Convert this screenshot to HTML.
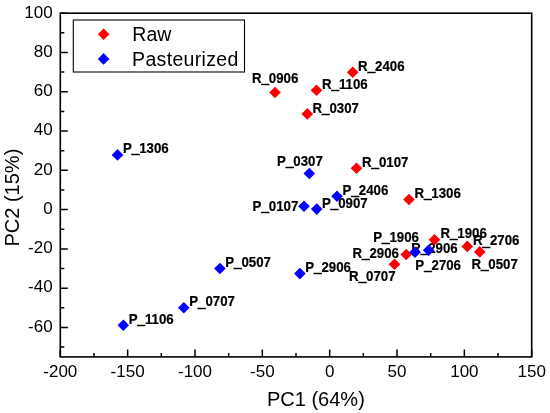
<!DOCTYPE html>
<html><head><meta charset="utf-8"><title>PCA plot</title>
<style>
html,body{margin:0;padding:0;background:#fff;}
body{width:550px;height:413px;overflow:hidden;}
svg{display:block;font-family:"Liberation Sans",Arial,sans-serif;}
</style></head>
<body>
<svg width="550" height="413" viewBox="0 0 550 413">
<rect x="60.30" y="13.20" width="471.40" height="343.70" fill="none" stroke="#000" stroke-width="1.6"/>
<path d="M60.30 356.90V349.40M93.97 356.90V352.90M127.64 356.90V349.40M161.31 356.90V352.90M194.99 356.90V349.40M228.66 356.90V352.90M262.33 356.90V349.40M296.00 356.90V352.90M329.67 356.90V349.40M363.34 356.90V352.90M397.01 356.90V349.40M430.69 356.90V352.90M464.36 356.90V349.40M498.03 356.90V352.90M531.70 356.90V349.40M60.30 347.08H64.30M60.30 327.44H67.80M60.30 307.80H64.30M60.30 288.16H67.80M60.30 268.52H64.30M60.30 248.88H67.80M60.30 229.24H64.30M60.30 209.60H67.80M60.30 189.96H64.30M60.30 170.32H67.80M60.30 150.68H64.30M60.30 131.04H67.80M60.30 111.40H64.30M60.30 91.76H67.80M60.30 72.12H64.30M60.30 52.48H67.80M60.30 32.84H64.30M60.30 13.20H67.80" stroke="#000" stroke-width="1.5" fill="none"/>
<g font-size="17" text-anchor="middle"><text x="60.30" y="377.0">-200</text><text x="127.64" y="377.0">-150</text><text x="194.99" y="377.0">-100</text><text x="262.33" y="377.0">-50</text><text x="329.67" y="377.0">0</text><text x="397.01" y="377.0">50</text><text x="464.36" y="377.0">100</text><text x="531.70" y="377.0">150</text></g>
<g font-size="17" text-anchor="end"><text x="52.6" y="331.74">-60</text><text x="52.6" y="292.46">-40</text><text x="52.6" y="253.18">-20</text><text x="52.6" y="213.90">0</text><text x="52.6" y="174.62">20</text><text x="52.6" y="135.34">40</text><text x="52.6" y="96.06">60</text><text x="52.6" y="56.78">80</text><text x="52.6" y="17.50">100</text></g>
<text x="267" y="405.6" font-size="20">PC1 (64%)</text>
<text transform="translate(18.9 246.5) rotate(-90)" font-size="20">PC2 (15%)</text>
<rect x="73.3" y="20.0" width="171.2" height="52.0" fill="#fff" stroke="#000" stroke-width="1.1"/>
<path d="M103.6 28.5L109.4 34.3L103.6 40.1L97.8 34.3Z" fill="#ff0000" stroke="none"/>
<path d="M103.6 53.1L109.4 58.9L103.6 64.7L97.8 58.9Z" fill="#0000ff" stroke="none"/>
<text x="132.3" y="41.0" font-size="19.5">Raw</text>
<text x="132.1" y="66.0" font-size="19.5" letter-spacing="0.33">Pasteurized</text>
<g font-size="14.5" font-weight="bold" stroke="#000" stroke-width="0.2"><text transform="translate(251.9 83.0) scale(0.915 1)">R<tspan dy="0.4" stroke="#000" stroke-width="0.9">_</tspan><tspan dy="-0.4">0906</tspan></text><text transform="translate(322.0 89.0) scale(0.915 1)">R<tspan dy="0.4" stroke="#000" stroke-width="0.9">_</tspan><tspan dy="-0.4">1106</tspan></text><text transform="translate(358.1 71.0) scale(0.915 1)">R<tspan dy="0.4" stroke="#000" stroke-width="0.9">_</tspan><tspan dy="-0.4">2406</tspan></text><text transform="translate(312.5 112.5) scale(0.915 1)">R<tspan dy="0.4" stroke="#000" stroke-width="0.9">_</tspan><tspan dy="-0.4">0307</tspan></text><text transform="translate(362.0 167.0) scale(0.915 1)">R<tspan dy="0.4" stroke="#000" stroke-width="0.9">_</tspan><tspan dy="-0.4">0107</tspan></text><text transform="translate(414.4 198.0) scale(0.915 1)">R<tspan dy="0.4" stroke="#000" stroke-width="0.9">_</tspan><tspan dy="-0.4">1306</tspan></text><text transform="translate(440.4 238.0) scale(0.915 1)">R<tspan dy="0.4" stroke="#000" stroke-width="0.9">_</tspan><tspan dy="-0.4">1906</tspan></text><text transform="translate(473.0 245.3) scale(0.915 1)">R<tspan dy="0.4" stroke="#000" stroke-width="0.9">_</tspan><tspan dy="-0.4">2706</tspan></text><text transform="translate(471.4 269.0) scale(0.915 1)">R<tspan dy="0.4" stroke="#000" stroke-width="0.9">_</tspan><tspan dy="-0.4">0507</tspan></text><text transform="translate(411.2 252.8) scale(0.915 1)">R<tspan dy="0.4" stroke="#000" stroke-width="0.9">_</tspan><tspan dy="-0.4">2906</tspan></text><text transform="translate(349.1 281.0) scale(0.915 1)">R<tspan dy="0.4" stroke="#000" stroke-width="0.9">_</tspan><tspan dy="-0.4">0707</tspan></text><text transform="translate(352.5 257.5) scale(0.915 1)">R<tspan dy="0.4" stroke="#000" stroke-width="0.9">_</tspan><tspan dy="-0.4">2906</tspan></text><text transform="translate(123.0 153.0) scale(0.915 1)">P<tspan dy="0.4" stroke="#000" stroke-width="0.9">_</tspan><tspan dy="-0.4">1306</tspan></text><text transform="translate(277.1 166.0) scale(0.915 1)">P<tspan dy="0.4" stroke="#000" stroke-width="0.9">_</tspan><tspan dy="-0.4">0307</tspan></text><text transform="translate(342.6 195.0) scale(0.915 1)">P<tspan dy="0.4" stroke="#000" stroke-width="0.9">_</tspan><tspan dy="-0.4">2406</tspan></text><text transform="translate(252.6 211.0) scale(0.915 1)">P<tspan dy="0.4" stroke="#000" stroke-width="0.9">_</tspan><tspan dy="-0.4">0107</tspan></text><text transform="translate(322.0 207.6) scale(0.915 1)">P<tspan dy="0.4" stroke="#000" stroke-width="0.9">_</tspan><tspan dy="-0.4">0907</tspan></text><text transform="translate(373.2 241.7) scale(0.915 1)">P<tspan dy="0.4" stroke="#000" stroke-width="0.9">_</tspan><tspan dy="-0.4">1906</tspan></text><text transform="translate(415.3 270.0) scale(0.915 1)">P<tspan dy="0.4" stroke="#000" stroke-width="0.9">_</tspan><tspan dy="-0.4">2706</tspan></text><text transform="translate(305.2 272.0) scale(0.915 1)">P<tspan dy="0.4" stroke="#000" stroke-width="0.9">_</tspan><tspan dy="-0.4">2906</tspan></text><text transform="translate(225.2 267.0) scale(0.915 1)">P<tspan dy="0.4" stroke="#000" stroke-width="0.9">_</tspan><tspan dy="-0.4">0507</tspan></text><text transform="translate(189.2 306.2) scale(0.915 1)">P<tspan dy="0.4" stroke="#000" stroke-width="0.9">_</tspan><tspan dy="-0.4">0707</tspan></text><text transform="translate(128.7 324.0) scale(0.915 1)">P<tspan dy="0.4" stroke="#000" stroke-width="0.9">_</tspan><tspan dy="-0.4">1106</tspan></text></g>
<g><path d="M275.0 86.7L280.8 92.5L275.0 98.3L269.2 92.5Z" fill="#ff0000" stroke="none"/><path d="M316.5 84.5L322.3 90.3L316.5 96.1L310.7 90.3Z" fill="#ff0000" stroke="none"/><path d="M352.7 66.4L358.5 72.2L352.7 78.0L346.9 72.2Z" fill="#ff0000" stroke="none"/><path d="M307.3 108.1L313.1 113.9L307.3 119.7L301.5 113.9Z" fill="#ff0000" stroke="none"/><path d="M356.5 162.5L362.3 168.3L356.5 174.1L350.7 168.3Z" fill="#ff0000" stroke="none"/><path d="M409.0 193.7L414.8 199.5L409.0 205.3L403.2 199.5Z" fill="#ff0000" stroke="none"/><path d="M434.5 233.9L440.3 239.7L434.5 245.5L428.7 239.7Z" fill="#ff0000" stroke="none"/><path d="M467.3 240.6L473.1 246.4L467.3 252.2L461.5 246.4Z" fill="#ff0000" stroke="none"/><path d="M479.8 246.1L485.6 251.9L479.8 257.7L474.0 251.9Z" fill="#ff0000" stroke="none"/><path d="M406.2 248.7L412.0 254.5L406.2 260.3L400.4 254.5Z" fill="#ff0000" stroke="none"/><path d="M394.5 258.5L400.3 264.3L394.5 270.1L388.7 264.3Z" fill="#ff0000" stroke="none"/><path d="M117.5 149.1L123.3 154.9L117.5 160.7L111.7 154.9Z" fill="#0000ff" stroke="none"/><path d="M309.3 167.7L315.1 173.5L309.3 179.3L303.5 173.5Z" fill="#0000ff" stroke="none"/><path d="M337.0 190.4L342.8 196.2L337.0 202.0L331.2 196.2Z" fill="#0000ff" stroke="none"/><path d="M304.0 200.5L309.8 206.3L304.0 212.1L298.2 206.3Z" fill="#0000ff" stroke="none"/><path d="M316.7 203.3L322.5 209.1L316.7 214.9L310.9 209.1Z" fill="#0000ff" stroke="none"/><path d="M415.0 246.4L420.8 252.2L415.0 258.0L409.2 252.2Z" fill="#0000ff" stroke="none"/><path d="M428.6 244.4L434.4 250.2L428.6 256.0L422.8 250.2Z" fill="#0000ff" stroke="none"/><path d="M299.9 267.8L305.7 273.6L299.9 279.4L294.1 273.6Z" fill="#0000ff" stroke="none"/><path d="M219.9 262.7L225.7 268.5L219.9 274.3L214.1 268.5Z" fill="#0000ff" stroke="none"/><path d="M183.8 301.9L189.6 307.7L183.8 313.5L178.0 307.7Z" fill="#0000ff" stroke="none"/><path d="M123.3 319.4L129.1 325.2L123.3 331.0L117.5 325.2Z" fill="#0000ff" stroke="none"/></g>
</svg>
</body></html>
